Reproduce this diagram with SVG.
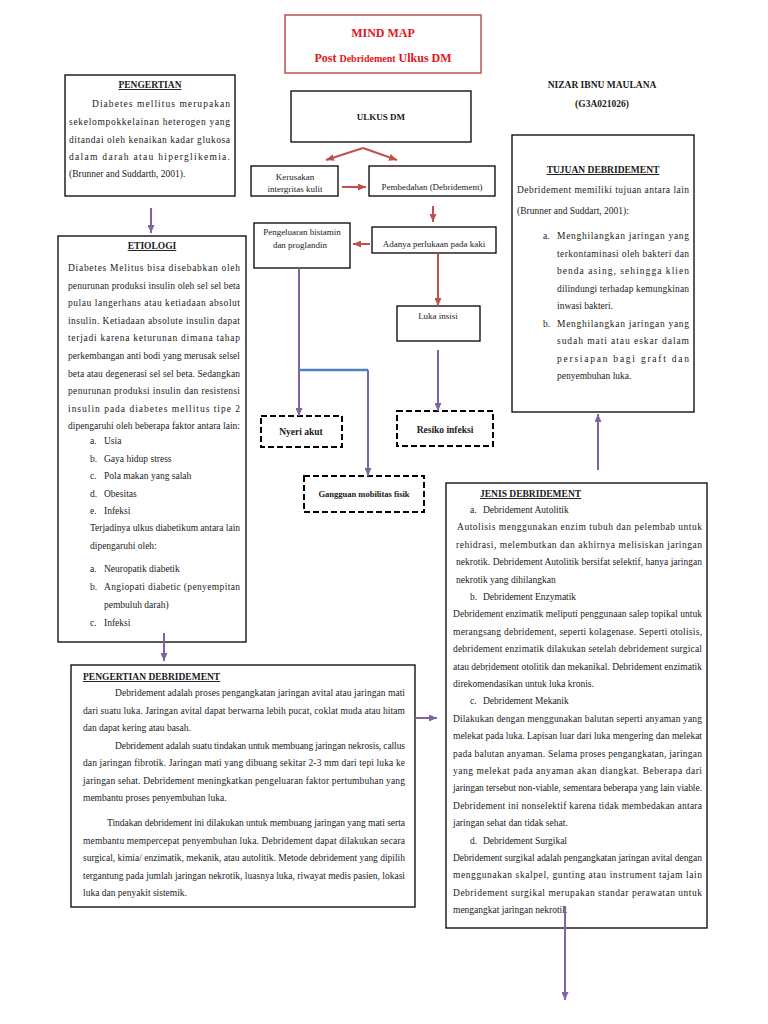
<svg xmlns="http://www.w3.org/2000/svg" width="768" height="1024" viewBox="0 0 768 1024">
<defs>
<style>
.t{font-family:"Liberation Serif",serif;font-size:9.5px;fill:#1a1a1a}
.s{font-size:9px}
.b{font-weight:bold}
.u{text-decoration:underline}
.c{text-anchor:middle}
.e{text-anchor:end}
.box{fill:#fff;stroke:#000;stroke-width:1.3}
.dash{fill:#fff;stroke:#000;stroke-width:2;stroke-dasharray:6 3}
.red{stroke:#c0504d;stroke-width:2;fill:none}
.pur{stroke:#8064a2;stroke-width:2;fill:none}
.blue{stroke:#4f81bd;stroke-width:2.5;fill:none}
.ttl{fill:#e3141c;font-size:12px;font-weight:bold}
</style>
<marker id="ar" markerWidth="8" markerHeight="7" refX="8" refY="3.5" orient="auto" markerUnits="userSpaceOnUse"><path d="M0,0 L8,3.5 L0,7 z" fill="#c0504d"/></marker>
<marker id="ap" markerWidth="8" markerHeight="7" refX="8" refY="3.5" orient="auto" markerUnits="userSpaceOnUse"><path d="M0,0 L8,3.5 L0,7 z" fill="#8064a2"/></marker>
</defs>
<rect width="768" height="1024" fill="#fff"/>

<g id="title">
<rect x="285" y="15" width="196" height="58" fill="#fff" stroke="#c0504d" stroke-width="1.5"/>
<text x="383" y="37" class="t c ttl">MIND MAP</text>
<text x="383" y="62" class="t c ttl">Post <tspan style="font-size:10px">Debridement</tspan> Ulkus DM</text>
</g>

<g id="author">
<text x="602" y="88" class="t b c">NIZAR IBNU MAULANA</text>
<text x="602" y="107" class="t b c">(G3A021026)</text>
</g>

<g id="pengertian">
<rect x="65" y="75" width="170" height="121" class="box"/>
<text x="150" y="88" class="t b u c">PENGERTIAN</text>
<text x="92" y="107" class="t" textLength="138" lengthAdjust="spacing">Diabetes mellitus merupakan</text>
<text x="69" y="125" class="t" textLength="161" lengthAdjust="spacing">sekelompokkelainan heterogen yang</text>
<text x="69" y="143" class="t" textLength="161" lengthAdjust="spacing">ditandai oleh kenaikan kadar glukosa</text>
<text x="69" y="160" class="t" textLength="161" lengthAdjust="spacing">dalam darah atau hiperglikemia.</text>
<text x="69" y="177" class="t">(Brunner and Suddarth, 2001).</text>
</g>

<g id="ulkus-dm">
<rect x="291" y="91" width="180" height="51" class="box"/>
<text x="381" y="120" class="t b c s">ULKUS DM</text>
</g>

<g id="kerusakan">
<rect x="251" y="166" width="87" height="30" class="box"/>
<text x="295" y="180" class="t c s">Kerusakan</text>
<text x="295" y="192" class="t c s">intergritas kulit</text>
</g>

<g id="pembedahan">
<rect x="369" y="166" width="126" height="30" class="box"/>
<text x="432" y="190" class="t c s">Pembedahan (Debridement)</text>
</g>

<g id="adanya">
<rect x="372" y="227" width="124" height="26" class="box"/>
<text x="434" y="247" class="t c s">Adanya perlukaan pada kaki</text>
</g>

<g id="pengeluaran">
<rect x="254" y="223" width="96" height="45" class="box"/>
<text x="302" y="235" class="t c s">Pengeluaran histamin</text>
<text x="300" y="248" class="t c s">dan proglandin</text>
</g>

<g id="luka-insisi">
<rect x="397" y="306" width="83" height="35" class="box"/>
<text x="438" y="319" class="t c s">Luka insisi</text>
</g>

<g id="nyeri-akut">
<rect x="261" y="416" width="81" height="31" class="dash"/>
<text x="301" y="435" class="t b c">Nyeri akut</text>
</g>

<g id="resiko-infeksi">
<rect x="397" y="411" width="96" height="35" class="dash"/>
<text x="445" y="433" class="t b c">Resiko infeksi</text>
</g>

<g id="gangguan">
<rect x="304" y="476" width="120" height="36" class="dash"/>
<text x="364" y="497" class="t b c" style="font-size:8.5px">Gangguan mobilitas fisik</text>
</g>

<g id="tujuan">
<rect x="512" y="135" width="182" height="277" class="box"/>
<text x="603" y="173" class="t b u c">TUJUAN DEBRIDEMENT</text>
<text x="517" y="193" class="t" textLength="172" lengthAdjust="spacing">Debridement memiliki tujuan antara lain</text>
<text x="517" y="214" class="t">(Brunner and Suddart, 2001):</text>
<text x="543" y="239" class="t">a.</text>
<text x="557" y="239" class="t" textLength="132" lengthAdjust="spacing">Menghilangkan jaringan yang</text>
<text x="557" y="256.5" class="t" textLength="132" lengthAdjust="spacing">terkontaminasi oleh bakteri dan</text>
<text x="557" y="274" class="t" textLength="132" lengthAdjust="spacing">benda asing, sehingga klien</text>
<text x="557" y="291.5" class="t" textLength="132" lengthAdjust="spacing">dilindungi terhadap kemungkinan</text>
<text x="557" y="309" class="t">inwasi bakteri.</text>
<text x="543" y="326.5" class="t">b.</text>
<text x="557" y="326.5" class="t" textLength="132" lengthAdjust="spacing">Menghilangkan jaringan yang</text>
<text x="557" y="344" class="t" textLength="132" lengthAdjust="spacing">sudah mati atau eskar dalam</text>
<text x="557" y="361.5" class="t" textLength="132" lengthAdjust="spacing">persiapan bagi graft dan</text>
<text x="557" y="379" class="t">penyembuhan luka.</text>
</g>

<g id="etiologi">
<rect x="58" y="236" width="188" height="406" class="box"/>
<text x="152" y="249" class="t b u c">ETIOLOGI</text>
<text x="68" y="271" class="t" textLength="172" lengthAdjust="spacing">Diabetes Melitus bisa disebabkan oleh</text>
<text x="68" y="288.6" class="t" textLength="172" lengthAdjust="spacing">penurunan produksi insulin oleh sel sel beta</text>
<text x="68" y="306.2" class="t" textLength="172" lengthAdjust="spacing">pulau langerhans atau ketiadaan absolut</text>
<text x="68" y="323.8" class="t" textLength="172" lengthAdjust="spacing">insulin. Ketiadaan absolute insulin dapat</text>
<text x="68" y="341.4" class="t" textLength="172" lengthAdjust="spacing">terjadi karena keturunan dimana tahap</text>
<text x="68" y="359" class="t" textLength="172" lengthAdjust="spacing">perkembangan anti bodi yang merusak selsel</text>
<text x="68" y="376.6" class="t" textLength="172" lengthAdjust="spacing">beta atau degenerasi sel sel beta. Sedangkan</text>
<text x="68" y="394.2" class="t" textLength="172" lengthAdjust="spacing">penurunan produksi insulin dan resistensi</text>
<text x="68" y="411.8" class="t" textLength="172" lengthAdjust="spacing">insulin pada diabetes mellitus tipe 2</text>
<text x="68" y="429.4" class="t" textLength="172" lengthAdjust="spacing">dipengaruhi oleh beberapa faktor antara lain:</text>
<text x="90" y="444" class="t">a.</text><text x="104" y="444" class="t">Usia</text>
<text x="90" y="461.5" class="t">b.</text><text x="104" y="461.5" class="t">Gaya hidup stress</text>
<text x="90" y="479" class="t">c.</text><text x="104" y="479" class="t">Pola makan yang salah</text>
<text x="90" y="496.5" class="t">d.</text><text x="104" y="496.5" class="t">Obesitas</text>
<text x="90" y="514" class="t">e.</text><text x="104" y="514" class="t">Infeksi</text>
<text x="90" y="531" class="t" textLength="150" lengthAdjust="spacing">Terjadinya ulkus diabetikum antara lain</text>
<text x="90" y="549" class="t">dipengaruhi oleh:</text>
<text x="90" y="572" class="t">a.</text><text x="104" y="572" class="t">Neuropatik diabetik</text>
<text x="90" y="590" class="t">b.</text><text x="104" y="590" class="t" textLength="136" lengthAdjust="spacing">Angiopati diabetic (penyempitan</text>
<text x="104" y="608" class="t">pembuluh darah)</text>
<text x="90" y="626" class="t">c.</text><text x="104" y="626" class="t">Infeksi</text>
</g>

<g id="pengertian-debridement">
<rect x="71" y="665" width="344" height="242" class="box"/>
<text x="83" y="680" class="t b u">PENGERTIAN DEBRIDEMENT</text>
<text x="115" y="696" class="t" textLength="290" lengthAdjust="spacing">Debridement adalah proses pengangkatan jaringan avital atau jaringan mati</text>
<text x="83" y="713.5" class="t" textLength="322" lengthAdjust="spacing">dari suatu luka. Jaringan avital dapat berwarna lebih pucat, coklat muda atau hitam</text>
<text x="83" y="731" class="t">dan dapat kering atau basah.</text>
<text x="115" y="748.5" class="t" textLength="290" lengthAdjust="spacing">Debridement adalah suatu tindakan untuk membuang jaringan nekrosis, callus</text>
<text x="83" y="766" class="t" textLength="322" lengthAdjust="spacing">dan jaringan fibrotik. Jaringan mati yang dibuang sekitar 2-3 mm dari tepi luka ke</text>
<text x="83" y="783.5" class="t" textLength="322" lengthAdjust="spacing">jaringan sehat. Debridement meningkatkan pengeluaran faktor pertumbuhan yang</text>
<text x="83" y="801" class="t">membantu proses penyembuhan luka.</text>
<text x="107" y="826" class="t" textLength="298" lengthAdjust="spacing">Tindakan debridement ini dilakukan untuk membuang jaringan yang mati serta</text>
<text x="83" y="843.5" class="t" textLength="322" lengthAdjust="spacing">membantu mempercepat penyembuhan luka. Debridement dapat dilakukan secara</text>
<text x="83" y="861" class="t" textLength="322" lengthAdjust="spacing">surgical, kimia/ enzimatik, mekanik, atau autolitik. Metode debridement yang dipilih</text>
<text x="83" y="878.5" class="t" textLength="322" lengthAdjust="spacing">tergantung pada jumlah jaringan nekrotik, luasnya luka, riwayat medis pasien, lokasi</text>
<text x="83" y="896" class="t">luka dan penyakit sistemik.</text>
</g>

<g id="jenis-debridement">
<rect x="446" y="483" width="261" height="445" class="box"/>
<text x="480" y="497" class="t b u">JENIS DEBRIDEMENT</text>
<text x="470" y="513" class="t">a.</text><text x="483" y="513" class="t">Debridement Autolitik</text>
<text x="457" y="530.4" class="t" textLength="245" lengthAdjust="spacing">Autolisis menggunakan enzim tubuh dan pelembab untuk</text>
<text x="456" y="547.8" class="t" textLength="246" lengthAdjust="spacing">rehidrasi, melembutkan dan akhirnya melisiskan jaringan</text>
<text x="456" y="565.2" class="t" textLength="246" lengthAdjust="spacing">nekrotik. Debridement Autolitik bersifat selektif, hanya jaringan</text>
<text x="456" y="582.6" class="t">nekrotik yang dihilangkan</text>
<text x="470" y="600" class="t">b.</text><text x="483" y="600" class="t">Debridement Enzymatik</text>
<text x="453" y="617.4" class="t" textLength="249" lengthAdjust="spacing">Debridement enzimatik meliputi penggunaan salep topikal untuk</text>
<text x="453" y="634.8" class="t" textLength="249" lengthAdjust="spacing">merangsang debridement, seperti kolagenase. Seperti otolisis,</text>
<text x="453" y="652.2" class="t" textLength="249" lengthAdjust="spacing">debridement enzimatik dilakukan setelah debridement surgical</text>
<text x="453" y="669.6" class="t" textLength="249" lengthAdjust="spacing">atau debridement otolitik dan mekanikal. Debridement enzimatik</text>
<text x="453" y="687" class="t">direkomendasikan untuk luka kronis.</text>
<text x="470" y="704.4" class="t">c.</text><text x="483" y="704.4" class="t">Debridement Mekanik</text>
<text x="453" y="721.8" class="t" textLength="249" lengthAdjust="spacing">Dilakukan dengan menggunakan balutan seperti anyaman yang</text>
<text x="453" y="739.2" class="t" textLength="249" lengthAdjust="spacing">melekat pada luka. Lapisan luar dari luka mengering dan melekat</text>
<text x="453" y="756.6" class="t" textLength="249" lengthAdjust="spacing">pada  balutan anyaman. Selama proses pengangkatan, jaringan</text>
<text x="453" y="774" class="t" textLength="249" lengthAdjust="spacing">yang melekat  pada anyaman akan diangkat. Beberapa dari</text>
<text x="453" y="791.4" class="t" textLength="249" lengthAdjust="spacing">jaringan tersebut non-viable, sementara beberapa yang lain viable.</text>
<text x="453" y="808.8" class="t" textLength="249" lengthAdjust="spacing">Debridement ini nonselektif karena tidak membedakan antara</text>
<text x="453" y="826.2" class="t">jaringan sehat dan tidak sehat.</text>
<text x="470" y="843.6" class="t">d.</text><text x="483" y="843.6" class="t">Debridement Surgikal</text>
<text x="453" y="861" class="t" textLength="249" lengthAdjust="spacing">Debridement surgikal adalah pengangkatan jaringan avital dengan</text>
<text x="453" y="878.4" class="t" textLength="249" lengthAdjust="spacing">menggunakan skalpel, gunting atau instrument tajam lain</text>
<text x="453" y="895.8" class="t" textLength="249" lengthAdjust="spacing">Debridement surgikal merupakan standar perawatan untuk</text>
<text x="453" y="913.2" class="t">mengangkat jaringan nekrotik</text>
</g>

<g id="connectors">
<line x1="363" y1="148" x2="326" y2="160" class="red" marker-end="url(#ar)"/>
<line x1="363" y1="148" x2="397" y2="160" class="red" marker-end="url(#ar)"/>
<line x1="342" y1="187" x2="366" y2="187" class="red" marker-end="url(#ar)"/>
<line x1="433" y1="206" x2="433" y2="222" class="red" marker-end="url(#ar)"/>
<line x1="370" y1="244" x2="353" y2="244" class="red" marker-end="url(#ar)"/>
<line x1="438" y1="253" x2="438" y2="306" class="red" marker-end="url(#ar)"/>
<line x1="438" y1="350" x2="438" y2="411" class="pur" marker-end="url(#ap)"/>
<line x1="299" y1="268" x2="299" y2="416" class="pur" marker-end="url(#ap)"/>
<line x1="299" y1="370" x2="368" y2="370" class="blue"/>
<line x1="368" y1="370" x2="368" y2="476" class="pur" marker-end="url(#ap)"/>
<line x1="151" y1="208" x2="151" y2="233" class="pur" marker-end="url(#ap)"/>
<line x1="164" y1="633" x2="164" y2="661" class="pur" marker-end="url(#ap)"/>
<line x1="598" y1="470" x2="598" y2="414" class="pur" marker-end="url(#ap)"/>
<line x1="415" y1="718" x2="437" y2="718" class="pur" marker-end="url(#ap)"/>
<line x1="565" y1="906" x2="565" y2="1000" class="pur" marker-end="url(#ap)"/>
</g>
</svg>
